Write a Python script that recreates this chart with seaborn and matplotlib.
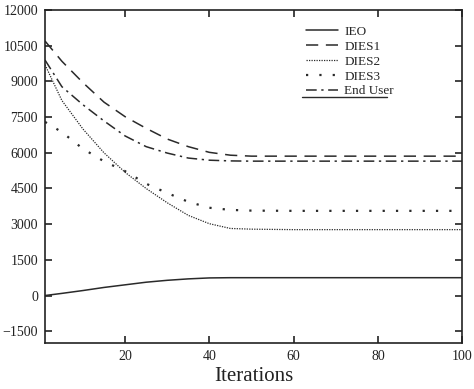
import matplotlib
matplotlib.use("Agg")
import matplotlib.pyplot as plt
import seaborn as sns
from matplotlib.lines import Line2D

iterations = [1, 5, 10, 15, 20, 25, 30, 35, 40, 45, 50, 60, 70, 80, 90, 100]
ieo      = [0, 90, 210, 340, 450, 560, 640, 700, 740, 750, 750, 750, 750, 750, 750, 750]
dies1    = [10700, 9850, 8950, 8130, 7520, 7030, 6580, 6260, 6020, 5900, 5860, 5860, 5860, 5860, 5860, 5860]
dies2    = [9700, 8200, 7000, 6000, 5180, 4500, 3900, 3370, 3020, 2820, 2790, 2770, 2770, 2770, 2770, 2770]
dies3    = [7300, 6870, 6170, 5640, 5230, 4700, 4310, 3940, 3690, 3600, 3570, 3560, 3560, 3560, 3560, 3560]
end_user = [9900, 8780, 8020, 7340, 6710, 6260, 5990, 5780, 5690, 5660, 5650, 5650, 5650, 5650, 5650, 5650]

labels = ["IEO", "DIES1", "DIES2", "DIES3", "End User"]
series = [ieo, dies1, dies2, dies3, end_user]
x_ticks = [20, 40, 60, 80, 100]
y_ticks = [-1500, 0, 1500, 3000, 4500, 6000, 7500, 9000, 10500, 12000]

sns.set_style("ticks")
plt.rcParams['font.family'] = ['Liberation Serif', 'DejaVu Serif']

fig = plt.figure(figsize=(4.74, 3.89), dpi=100)
ax = fig.add_axes([0.095, 0.118, 0.88, 0.856])

styles = [
    dict(linestyle="-", lw=1.1),
    dict(linestyle=(0, (8, 5)), lw=1.1),
    dict(linestyle=(0, (1, 1)), lw=0.9),
    dict(linestyle=(0, (1, 5)), lw=1.6),
    dict(linestyle=(0, (7, 3, 1.5, 3)), lw=1.1),
]
col = "#2a2a2a"
for lab, vals, st in zip(labels, series, styles):
    sns.lineplot(x=iterations, y=vals, ax=ax, color=col, label=lab, **st)

ax.set_xlim(1, 100)
ax.set_ylim(-2000, 12000)
ax.set_xticks(x_ticks)
ax.set_yticks(y_ticks)
ax.tick_params(direction="in", top=True, right=True, length=5, width=1.2,
               labelsize=10, colors="#222222", pad=5)
for s in ax.spines.values():
    s.set_linewidth(1.2)
    s.set_color("#222222")
ax.set_xlabel("Iterations", fontsize=15, labelpad=3, color="#222222")
ax.set_ylabel("")

leg = ax.legend(loc="upper left", bbox_to_anchor=(0.6, 0.985), frameon=False,
                fontsize=9.5, handlelength=2.4, handletextpad=0.5,
                labelspacing=0.2, borderpad=0.3)
ax.add_line(Line2D([0.617, 0.82], [0.739, 0.739], transform=ax.transAxes,
                   color=col, lw=1.0))

fig.savefig("out.png", dpi=100)
